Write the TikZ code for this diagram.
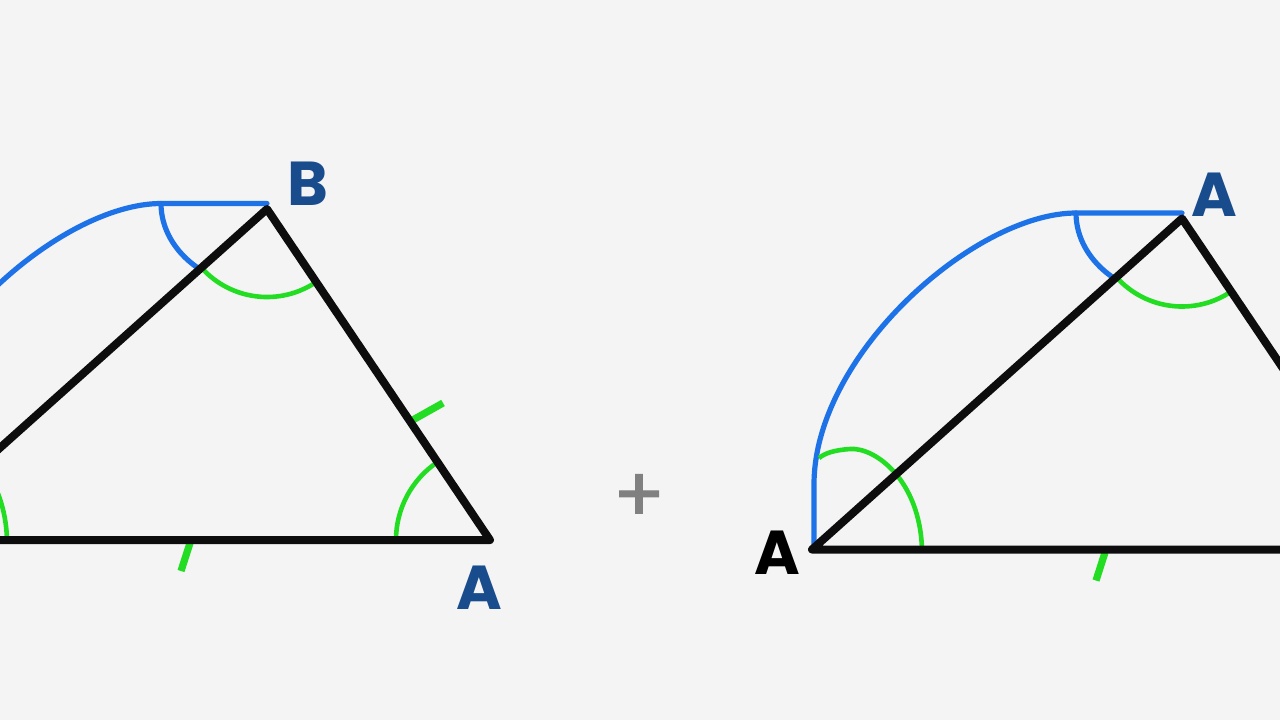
\documentclass[tikz,border=0pt]{standalone}
\usepackage{fontspec}
\setmainfont{Poppins}
\newfontfamily\plusfont{Poppins}[FakeBold=1.6]
\usetikzlibrary{positioning}

\definecolor{bgcol}{RGB}{244,244,244}
\definecolor{traceblue}{RGB}{28,114,230}
\definecolor{markgreen}{RGB}{34,221,34}
\definecolor{labelblue}{RGB}{24,76,140}
\definecolor{plusgray}{RGB}{128,128,128}

\tikzset{
  side/.style={line width=4pt, black!95, line cap=round, line join=round},
  trace/.style={line width=2.6pt, traceblue, line cap=round},
  anglemark/.style={line width=2.3pt, markgreen},
  tickmark/.style={line width=3.6pt, markgreen},
  vlabel/.style={font=\fontsize{31}{31}\selectfont\bfseries, inner sep=0pt},
}

\begin{document}
\begin{tikzpicture}[x=0.5pt, y=-0.5pt]
  % Background
  \fill[bgcol] (0,0) rectangle (1280,720);
  \clip (0,0) rectangle (1280,720);

  % Draw the two copies of the triangle
  \foreach \dx/\dy in {0/0, 915/9.5} {
    \begin{scope}[shift={(\dx,\dy)}]
      \coordinate (top) at (267,209);
      \coordinate (left) at (-103,540);
      \coordinate (right) at (490,540);
      % blue trace of the turned side
      \draw[trace] (top) ++(0,-5.5) -- (161,203.5)
        .. controls (60,203.5) and (-101,345) .. (-101,475) -- (-101,540);
      \draw[trace] (161,203.5) arc[start angle=180, end angle=131, x radius=106, y radius=85];
      % green angle marks
      \draw[anglemark] ([shift={(56:88)}]top) arc[start angle=56, end angle=138, radius=88];
      \draw[anglemark] (396,540) arc[start angle=180, end angle=236, radius=94];
      \draw[anglemark] (7,540) .. controls (5,470.5) and (-40,437.5) .. (-65,439.5)
        .. controls (-80,440.5) and (-90,443.5) .. (-96,448.5);
      % equal side ticks
      \draw[tickmark] (190,543) -- (181,571);
      \draw[tickmark] (411,421) -- (443,403);
      % the sides
      \draw[side] (left) -- (top) -- (right) -- cycle;
    \end{scope}
  }

  % Vertex labels
  \node[vlabel, text=labelblue] (labelB) at (308,184) {B};
  \node[vlabel, text=labelblue] (labelAlow) at (479,588) {A};
  \node[vlabel, text=labelblue] (labelAtop) at (1214,195) {A};
  \node[vlabel, text=black] (labelAleft) at (777,553) {A};

  % Plus sign between the figures
  \node[inner sep=0pt, text=plusgray, font=\fontsize{38}{38}\selectfont\plusfont] (plus) at (639,498) {+};
\end{tikzpicture}
\end{document}
